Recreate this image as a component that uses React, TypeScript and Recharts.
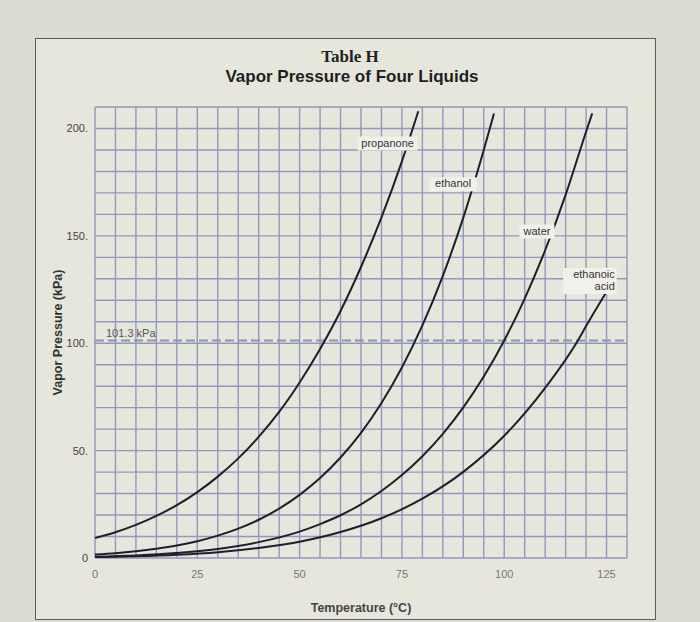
import React from 'react';
import { LineChart, Line, XAxis, YAxis, CartesianGrid, ReferenceLine, ReferenceDot } from 'recharts';

// Temperatures (°C) and vapor pressures (kPa)
const propanoneT = [0, 5, 10, 15, 20, 25, 30, 35, 40, 45, 50, 55, 60, 65, 70, 75, 79];
const propanoneP = [9.3, 12, 15.4, 19.6, 24.6, 30.7, 37.9, 46.4, 56.4, 68, 81.7, 97.3, 115, 135.5, 158.6, 184.7, 208];

const ethanolT = [0, 5, 10, 15, 20, 25, 30, 35, 40, 45, 50, 55, 60, 65, 70, 75, 80, 85, 90, 95, 97.5];
const ethanolP = [1.6, 2.2, 3.1, 4.3, 5.8, 7.8, 10.4, 13.7, 17.8, 23, 29.4, 37.2, 46.8, 58.3, 72.2, 88.7, 108.3, 131.4, 158.5, 190, 207];

const waterT = [0, 10, 20, 30, 40, 50, 55, 60, 65, 70, 75, 80, 85, 90, 95, 100, 105, 110, 115, 120, 121.5];
const waterP = [0.6, 1.2, 2.3, 4.2, 7.4, 12.3, 15.8, 19.9, 25, 31.2, 38.6, 47.4, 57.8, 70.1, 84.5, 101.3, 120.8, 143.3, 169.1, 198.5, 207];

const ethanoicT = [0, 10, 20, 30, 40, 50, 60, 70, 80, 90, 100, 110, 118, 120, 125];
const ethanoicP = [0.4, 0.8, 1.5, 2.7, 4.7, 7.6, 12.1, 18.5, 27.6, 40.1, 56.9, 79.2, 101.3, 108, 124];

const xLabelTicks = [0, 25, 50, 75, 100, 125];
const yLabelTicks = [0, 50, 100, 150, 200];
const gridX = [0, 5, 10, 15, 20, 25, 30, 35, 40, 45, 50, 55, 60, 65, 70, 75, 80, 85, 90, 95, 100, 105, 110, 115, 120, 125, 130];
const gridY = [0, 10, 20, 30, 40, 50, 60, 70, 80, 90, 100, 110, 120, 130, 140, 150, 160, 170, 180, 190, 200, 210];

const atmPressure = 101.3;
const atmLabel = '101.3 kPa';

// curve labels: text lines, temperature anchor, pressure anchor, anchor side
const curveLabels = [
  { lines: ['propanone'], t: 71.5, p: 193, anchor: 'middle' },
  { lines: ['ethanol'], t: 87.5, p: 174, anchor: 'middle' },
  { lines: ['water'], t: 108, p: 152, anchor: 'middle' },
  { lines: ['ethanoic', 'acid'], t: 127.5, p: 129, anchor: 'end' },
];

const zip = (ts: number[], ps: number[]) => ts.map((t, i) => ({ t, p: ps[i] }));

const series = [
  { name: 'propanone', data: zip(propanoneT, propanoneP) },
  { name: 'ethanol', data: zip(ethanolT, ethanolP) },
  { name: 'water', data: zip(waterT, waterP) },
  { name: 'ethanoic acid', data: zip(ethanoicT, ethanoicP) },
];

const SANS = '"Liberation Sans", Arial, Helvetica, sans-serif';
const SERIF = '"Liberation Serif", "Times New Roman", serif';

const LabelShape = (lines: string[], anchor: string) => (props: any) => {
  const { cx, cy } = props;
  if (cx == null || cy == null) return null;
  const fs = 11;
  const lh = 12;
  const w = Math.max(...lines.map((s) => s.length)) * 6.2 + 4;
  const h = lines.length * lh + 2;
  const rx = anchor === 'end' ? cx - w : cx - w / 2;
  const tx = anchor === 'end' ? cx - 2 : cx;
  return (
    <g>
      <rect x={rx} y={cy - h / 2} width={w} height={h} fill="#f1f1ec" />
      {lines.map((s, i) => (
        <text
          key={i}
          x={tx}
          y={cy - h / 2 + 10 + i * lh}
          textAnchor={anchor as any}
          fontFamily={SANS}
          fontSize={fs}
          fill="#333"
        >
          {s}
        </text>
      ))}
    </g>
  );
};

export default function App() {
  return (
    <div style={{ position: 'absolute', left: 0, top: 0, width: 700, height: 622, background: '#dcdbd2', overflow: 'hidden' }}>
      <div
        style={{
          position: 'absolute',
          left: 35,
          top: 38,
          width: 619,
          height: 580,
          border: '1.5px solid #5c5c60',
          background: '#e6e6dd',
        }}
      />
      <div style={{ position: 'absolute', left: 0, top: 0 }}>
        <LineChart width={700} height={622} margin={{ top: 107, right: 73, bottom: 34, left: 35 }}>
          <CartesianGrid stroke="#8f99ba" strokeWidth={1.4} />
          <XAxis
            type="number"
            dataKey="t"
            domain={[0, 130]}
            ticks={gridX}
            interval={0}
            allowDataOverflow
            axisLine={false}
            tickLine={false}
            tickMargin={6}
            height={30}
            tickFormatter={(v: number) => (xLabelTicks.includes(v) ? String(v) : '')}
            tick={{ fontFamily: SANS, fontSize: 11, fill: '#777' }}
            label={{ value: 'Temperature (°C)', position: 'insideBottom', offset: -24, style: { fontFamily: SANS, fontSize: 12.5, fontWeight: 'bold', fill: '#444' } }}
          />
          <YAxis
            type="number"
            dataKey="p"
            domain={[0, 210]}
            ticks={gridY}
            interval={0}
            allowDataOverflow
            axisLine={false}
            tickLine={false}
            tickMargin={1}
            width={60}
            tickFormatter={(v: number) => (yLabelTicks.includes(v) ? (v === 0 ? '0' : `${v}.`) : '')}
            tick={{ fontFamily: SANS, fontSize: 11, fill: '#444' }}
            label={{ value: 'Vapor Pressure (kPa)', angle: -90, position: 'insideLeft', offset: 23, style: { fontFamily: SANS, fontSize: 12.5, fontWeight: 'bold', fill: '#333', textAnchor: 'middle' } }}
          />
          <ReferenceLine
            y={atmPressure}
            stroke="#8a93b0"
            strokeWidth={2}
            strokeDasharray="9 4"
            label={{ value: atmLabel, position: 'insideBottomLeft', offset: 3, dx: 8, style: { fontFamily: SANS, fontSize: 11, fill: '#555' } }}
          />
          {series.map((s) => (
            <Line
              key={s.name}
              data={s.data}
              dataKey="p"
              type="monotone"
              stroke="#1d1f2c"
              strokeWidth={2}
              dot={false}
              activeDot={false}
              isAnimationActive={false}
            />
          ))}
          {curveLabels.map((l) => (
            <ReferenceDot key={l.lines.join(' ')} x={l.t} y={l.p} r={0} shape={LabelShape(l.lines, l.anchor)} />
          ))}
        </LineChart>
      </div>
      <div
        style={{
          position: 'absolute',
          left: 0,
          width: 700,
          top: 47,
          textAlign: 'center',
          fontFamily: SERIF,
          fontWeight: 'bold',
          fontSize: 17,
          color: '#222',
        }}
      >
        Table H
      </div>
      <div
        style={{
          position: 'absolute',
          left: 2,
          width: 700,
          top: 67,
          textAlign: 'center',
          fontFamily: SANS,
          fontWeight: 'bold',
          fontSize: 17,
          color: '#1e1e1e',
        }}
      >
        Vapor Pressure of Four Liquids
      </div>
    </div>
  );
}
